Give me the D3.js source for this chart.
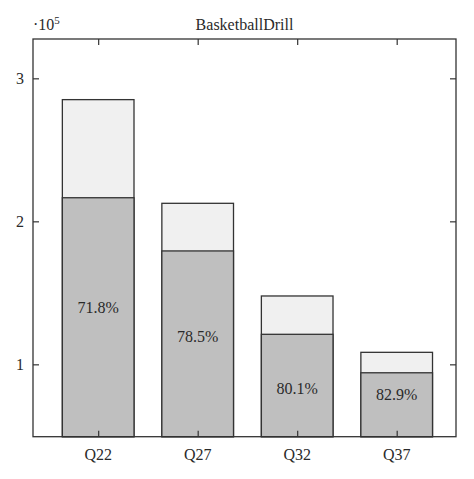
<!DOCTYPE html>
<html><head><meta charset="utf-8">
<script src="https://cdn.jsdelivr.net/npm/d3@7"></script>
<style>body{margin:0;background:#fff}svg{display:block}</style>
</head><body><svg id="c" width="474" height="479"></svg>
<script>
const categories = ["Q22","Q27","Q32","Q37"];
const totalValues = [2.851, 2.126, 1.478, 1.084];   // x10^5
const innerValues = [2.165, 1.793, 1.210, 0.941];   // x10^5
const percentLabels = ["71.8%","78.5%","80.1%","82.9%"];
const labelValues = [1.394, 1.193, 0.832, 0.786];
const yTicks = [1, 2, 3];
const title = "BasketballDrill";

const FONT = "'Liberation Serif', 'Times New Roman', serif";
const svg = d3.select("#c").attr("font-family", FONT);
const L = 33, R = 456, T = 39, B = 436.7;
const x = d3.scaleLinear().domain([0.345, 4.596]).range([L, R]);
const y = d3.scaleLinear().domain([0.494, 3.275]).range([B, T]);
const bw = 0.72;
const idx = categories.map((d, i) => i + 1);
const TXT = "#2a2a2a";

const g = svg.append("g");
g.selectAll("rect.tot").data(idx).join("rect")
  .attr("x", i => x(i - bw/2)).attr("width", i => x(i + bw/2) - x(i - bw/2))
  .attr("y", i => y(totalValues[i-1])).attr("height", i => B - y(totalValues[i-1]))
  .attr("fill", "#f0f0f0").attr("stroke", "#333").attr("stroke-width", 1.3);
g.selectAll("rect.inn").data(idx).join("rect")
  .attr("x", i => x(i - bw/2)).attr("width", i => x(i + bw/2) - x(i - bw/2))
  .attr("y", i => y(innerValues[i-1])).attr("height", i => B - y(innerValues[i-1]))
  .attr("fill", "#bfbfbf").attr("stroke", "#333").attr("stroke-width", 1.3);
g.selectAll("text.pct").data(idx).join("text")
  .attr("x", i => x(i)).attr("y", i => y(labelValues[i-1]))
  .attr("text-anchor", "middle").attr("dominant-baseline", "central")
  .attr("font-size", 16).attr("fill", TXT).text(i => percentLabels[i-1]);

const tl = 6;
const axL = svg.append("g").attr("transform", `translate(${L},0)`)
  .call(d3.axisRight(y).tickValues(yTicks).tickSize(tl).tickFormat(""));
const axR = svg.append("g").attr("transform", `translate(${R},0)`)
  .call(d3.axisLeft(y).tickValues(yTicks).tickSize(tl).tickFormat(""));
const axT = svg.append("g").attr("transform", `translate(0,${T})`)
  .call(d3.axisBottom(x).tickValues(idx).tickSize(tl).tickFormat(""));
const axB = svg.append("g").attr("transform", `translate(0,${B})`)
  .call(d3.axisTop(x).tickValues(idx).tickSize(tl).tickFormat(""));
[axL, axR, axT, axB].forEach(a => { a.select(".domain").remove(); a.selectAll("line").attr("stroke", "#333").attr("stroke-width", 1.2); });
svg.append("rect").attr("x", L).attr("y", T).attr("width", R - L).attr("height", B - T)
  .attr("fill", "none").attr("stroke", "#333").attr("stroke-width", 1.3);

svg.selectAll("text.yl").data(yTicks).join("text")
  .attr("x", L - 9).attr("y", d => y(d)).attr("text-anchor", "end")
  .attr("dominant-baseline", "central").attr("font-size", 16).attr("fill", TXT).text(d => d);
svg.selectAll("text.xl").data(idx).join("text")
  .attr("x", i => x(i)).attr("y", B + 23).attr("text-anchor", "middle")
  .attr("font-size", 16).attr("fill", TXT).text(i => categories[i-1]);

const ex = svg.append("text").attr("x", L).attr("y", 30).attr("font-size", 16).attr("fill", TXT);
ex.append("tspan").text("·10");
ex.append("tspan").attr("dy", -6).attr("font-size", 11).text("5");
svg.append("text").attr("x", (L + R) / 2).attr("y", 30).attr("text-anchor", "middle")
  .attr("font-size", 16).attr("fill", TXT).text(title);
</script></body></html>
